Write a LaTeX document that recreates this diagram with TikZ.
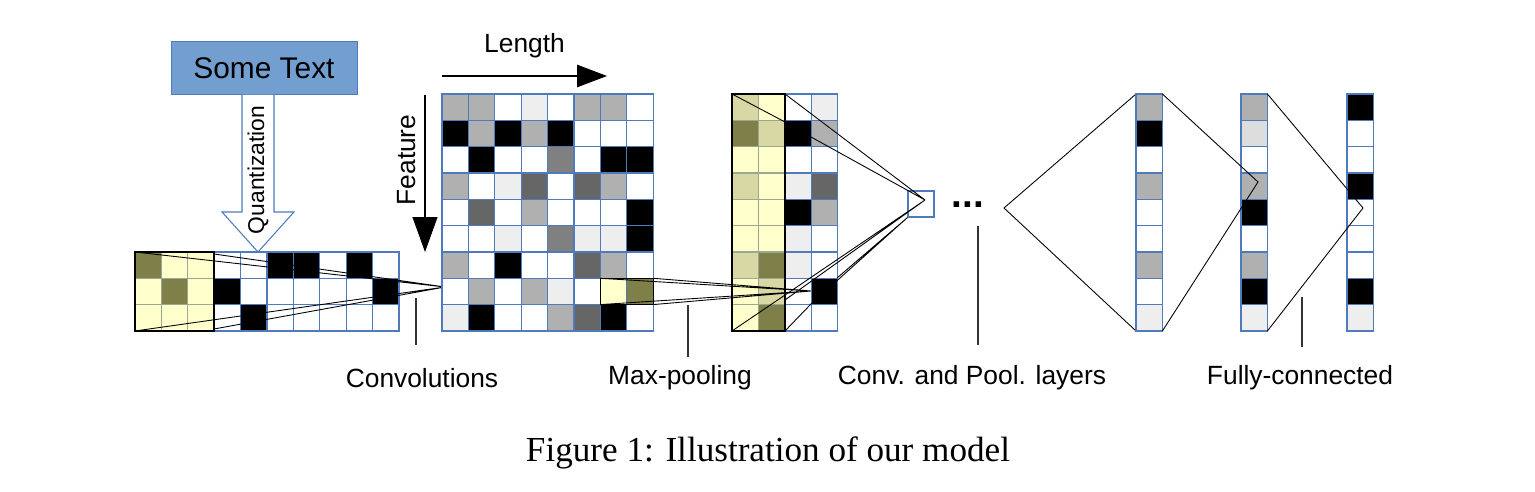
\documentclass[tikz,border=0pt]{standalone}
\usepackage{fontspec}
\setmainfont{Liberation Sans}
\newfontfamily\capfont{Liberation Serif}
\usetikzlibrary{arrows.meta,positioning}
\definecolor{cW}{HTML}{FFFFFF}
\definecolor{cG}{HTML}{B0B0B0}
\definecolor{cL}{HTML}{EEEEEE}
\definecolor{cM}{HTML}{808080}
\definecolor{cD}{HTML}{666666}
\definecolor{cB}{HTML}{000000}
\definecolor{cE}{HTML}{DDDDDD}
\definecolor{cY}{HTML}{FFFFCC}
\definecolor{cT}{HTML}{D8D8A4}
\definecolor{cO}{HTML}{7F7F4A}
\definecolor{gridblue}{HTML}{4F7BBD}
\definecolor{ygrid}{HTML}{9AAA90}
\definecolor{boxblue}{HTML}{729FCF}
\tikzset{
  cell/.style={draw=gridblue,line width=0.7pt},
  ycell/.style={draw=ygrid,line width=0.7pt},
  fan/.style={draw=black,line width=0.5pt},
  lbl/.style={font=\fontsize{15}{18}\selectfont,inner sep=0pt},
  pin/.style={draw=black!80,line width=0.6pt}
}
% one row of cells: x0, y0, style, colour list (a macro)
\newcommand{\cellrow}[4]{%
  \foreach \c [count=\i from 0] in #4
    \path[#3,fill=c\c] ({#1+\i*26.4},#2) rectangle ++(26.4,26.33);}

\begin{document}
\begin{tikzpicture}[x=0.02cm,y=-0.02cm]
\useasboundingbox (0,0) rectangle (1535,492);

% text box and quantization
\node[draw=gridblue,fill=boxblue,minimum width=3.72cm,minimum height=1.06cm,
      font=\fontsize{17}{20}\selectfont] (txt) at (264,68) {Some Text};
\draw[draw=gridblue,fill=white,line width=0.6pt] (242,95) -- (242,212) -- (222,212)
   -- (258,252) -- (294,212) -- (274,212) -- (274,95);
\node[rotate=90,font=\fontsize{13}{15}\selectfont,inner sep=0pt] (quant) at (258,170) {Quantization};

% input
\foreach \r [count=\j from 0] in {{O,Y,Y},{Y,O,Y},{Y,Y,Y}}
  \cellrow{135}{252+\j*26.33}{ycell}{\r}
\foreach \r [count=\j from 0] in {{W,W,B,B,W,B,W},{B,W,W,W,W,W,B},{W,B,W,W,W,W,W}}
  \cellrow{214.2}{252+\j*26.33}{cell}{\r}
\draw[line width=0.8pt] (135,252) rectangle (214.2,331);
\coordinate (in1) at (445,287);
\draw[fan] (135,252) -- (in1) (214,254) -- (in1) (135,331) -- (in1) (214,329) -- (in1);

% feature map
\foreach \r [count=\j from 0] in {{G,G,W,L,W,G,G,W},{B,G,B,G,B,W,W,W},{W,B,W,W,M,W,B,B},
    {G,W,L,D,W,D,G,W},{W,D,W,G,W,W,W,B},{W,W,L,W,M,L,L,B},{G,W,B,W,W,D,G,W},
    {W,G,W,G,L,W,Y,O},{L,B,W,W,G,D,B,W}}
  \cellrow{442}{94+\j*26.33}{cell}{\r}
\draw[line width=0.8pt] (600.4,278.3) rectangle (653.2,304.6);
\draw[-{Triangle[length=0.6cm,width=0.45cm]},line width=0.6pt] (442,76) -- (607,76)
  node[midway,above=0.35cm,lbl] (len) {Length};
\draw[-{Triangle[length=0.7cm,width=0.5cm]},line width=0.6pt] (425,95) -- (425,252);
\node[rotate=90,lbl] (feat) at (407,160) {Feature};

% pooling
\foreach \r [count=\j from 0] in {{T,Y},{O,T},{Y,Y},{T,Y},{Y,Y},{Y,Y},{T,O},{Y,T},{Y,O}}
  \cellrow{732}{94+\j*26.33}{ycell}{\r}
\foreach \r [count=\j from 0] in {{W,L},{B,G},{W,W},{L,D},{B,G},{L,W},{L,W},{W,B},{W,W}}
  \cellrow{784.8}{94+\j*26.33}{cell}{\r}
\draw[line width=0.8pt] (732,94) rectangle (784.8,331);
\coordinate (pl) at (811,291);
\draw[fan] (600.4,278.3) -- (pl) (653.2,278.3) -- (pl) (600.4,304.6) -- (pl) (653.2,304.6) -- (pl);
\draw[fan] (732,94) -- (785,122) (785,331) -- (811,304);

% conv/pool layers
\node[draw=gridblue,minimum size=0.52cm,inner sep=0pt,line width=0.6pt] (sm) at (921,204) {};
\coordinate (ap) at (925,200);
\draw[fan] (785,94) -- (ap) (811,137) -- (ap) (732,331) -- (ap) (785,300) -- (ap)
  (811,304) -- (sm.south west) (837,278) -- (sm.south west);
\node[font=\fontsize{22}{22}\selectfont\bfseries,inner sep=0pt] (dots) at (968,205) {...};
\coordinate (tip) at (1004,208);
\draw[fan] (1136,94) -- (tip) -- (1136,331);

% fully connected
\foreach \c [count=\j from 0] in {G,B,W,G,W,W,G,W,L}
  \path[cell,fill=c\c] (1136,94+\j*26.33) rectangle ++(26.4,26.33);
\foreach \c [count=\j from 0] in {G,E,W,G,B,W,G,B,L}
  \path[cell,fill=c\c] (1241,94+\j*26.33) rectangle ++(26.4,26.33);
\foreach \c [count=\j from 0] in {B,W,W,B,W,W,W,B,L}
  \path[cell,fill=c\c] (1347,94+\j*26.33) rectangle ++(26.4,26.33);
\coordinate (fc1) at (1258,182);
\coordinate (fc2) at (1363,208);
\draw[fan] (1162.4,94) -- (fc1) -- (1162.4,331);
\draw[fan] (1267.4,94) -- (fc2) -- (1267.4,331);

% labels
\node[lbl] (l1) at (422,378) {Convolutions};
\node[lbl] (l2) at (680,378) {Max-pooling};
\node[lbl] (l3) at (972,378) {Conv. and Pool. layers};
\node[lbl] (l4) at (1300,378) {Fully-connected};
\coordinate (p1) at (416,298);
\coordinate (p2) at (688,305);
\coordinate (p3) at (978,226);
\coordinate (p4) at (1302,297);
\draw[pin] (p1) -- (416,345) (p2) -- (688,357) (p3) -- (978,345) (p4) -- (1302,347);

\node[font=\capfont\fontsize{20}{24}\selectfont,inner sep=0pt] (cap) at (768,453)
  {Figure 1: Illustration of our model};
\end{tikzpicture}
\end{document}
